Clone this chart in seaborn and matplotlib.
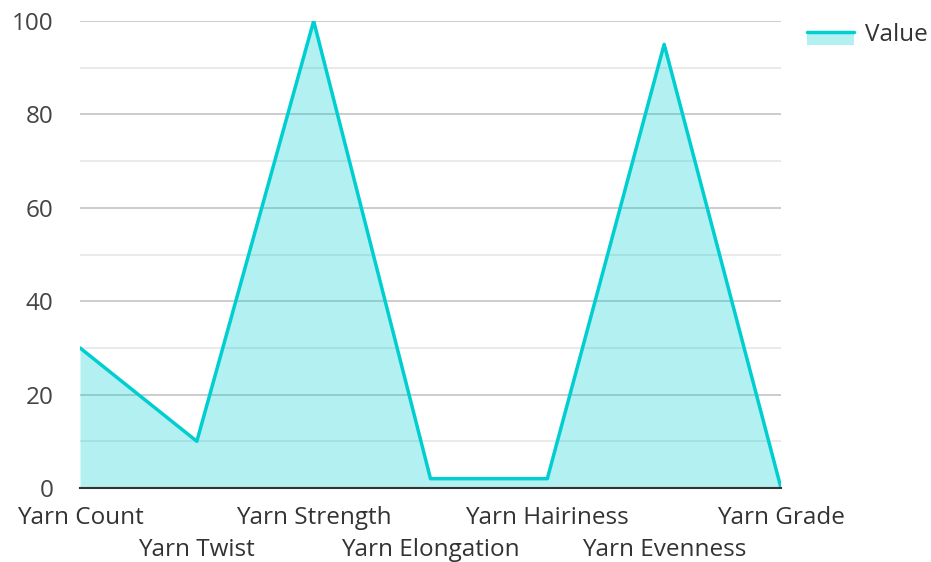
import matplotlib
matplotlib.use("Agg")
import matplotlib.pyplot as plt
import seaborn as sns
import pandas as pd
from matplotlib.patches import Rectangle
from matplotlib.lines import Line2D
from matplotlib.legend_handler import HandlerBase

categories = ["Yarn Count", "Yarn Twist", "Yarn Strength", "Yarn Elongation",
              "Yarn Hairiness", "Yarn Evenness", "Yarn Grade"]
values = [30, 10, 100, 2, 2, 95, 0]
series_name = "Value"

sns.set_theme(style="white")
plt.rcParams['font.family'] = ['Open Sans', 'DejaVu Sans']

LINE = "#00CED1"
FS = 17.5
df = pd.DataFrame({"idx": range(len(categories)), "val": values})

fig = plt.figure(figsize=(9.31, 5.62), dpi=100)
ax = fig.add_axes([80/931, 74/562, 701/931, 467/562])

ax.fill_between(df["idx"], df["val"], 0, color=LINE, alpha=0.3, linewidth=0, zorder=2)
sns.lineplot(data=df, x="idx", y="val", ax=ax, color=LINE, linewidth=2.5, zorder=3)

ax.set_xlim(0, len(categories) - 1)
ax.set_ylim(0, 100)
ax.set_yticks(range(0, 101, 20))
ax.set_yticks(range(10, 100, 20), minor=True)
ax.grid(axis="y", which="major", color="#c4c4c4", linewidth=1.2, zorder=0)
ax.grid(axis="y", which="minor", color="#e6e6e6", linewidth=1.2, zorder=0)
ax.set_axisbelow(True)

even = [i for i in range(len(categories)) if i % 2 == 0]
odd = [i for i in range(len(categories)) if i % 2 == 1]
ax.set_xticks(even)
ax.set_xticklabels([categories[i] for i in even])
ax.set_xticks(odd, minor=True)
ax.set_xticklabels([categories[i] for i in odd], minor=True)
ax.tick_params(axis="x", which="major", length=0, pad=13, labelsize=FS, labelcolor="#333333")
ax.tick_params(axis="x", which="minor", length=0, pad=13 + 23, labelsize=FS, labelcolor="#333333")
ax.tick_params(axis="y", which="both", length=0, pad=19, labelsize=FS, labelcolor="#444444")
ax.set_xlabel("")
ax.set_ylabel("")

for s in ["top", "right", "left"]:
    ax.spines[s].set_visible(False)
ax.spines["bottom"].set_color("#333333")
ax.spines["bottom"].set_linewidth(1.5)
ax.spines["bottom"].set_zorder(4)


class AreaHandler(HandlerBase):
    def create_artists(self, legend, orig_handle, xdescent, ydescent, width, height, fontsize, trans):
        r = Rectangle((-xdescent, -ydescent - height * 0.25), width, height * 0.75, facecolor=LINE,
                      alpha=0.3, edgecolor="none", transform=trans)
        l = Line2D([-xdescent, -xdescent + width], [-ydescent + height * 0.5] * 2,
                   color=LINE, linewidth=2.5, transform=trans)
        return [r, l]


handle = Rectangle((0, 0), 1, 1)
fig.legend([handle], [series_name], handler_map={Rectangle: AreaHandler()},
           loc="upper left", bbox_to_anchor=(807/931, 1 - 23/562), frameon=False,
           borderpad=0, borderaxespad=0,
           fontsize=FS, handlelength=1.95, handleheight=0.7, handletextpad=0.45,
           labelcolor="#333333")

fig.savefig("out.png", dpi=100)
